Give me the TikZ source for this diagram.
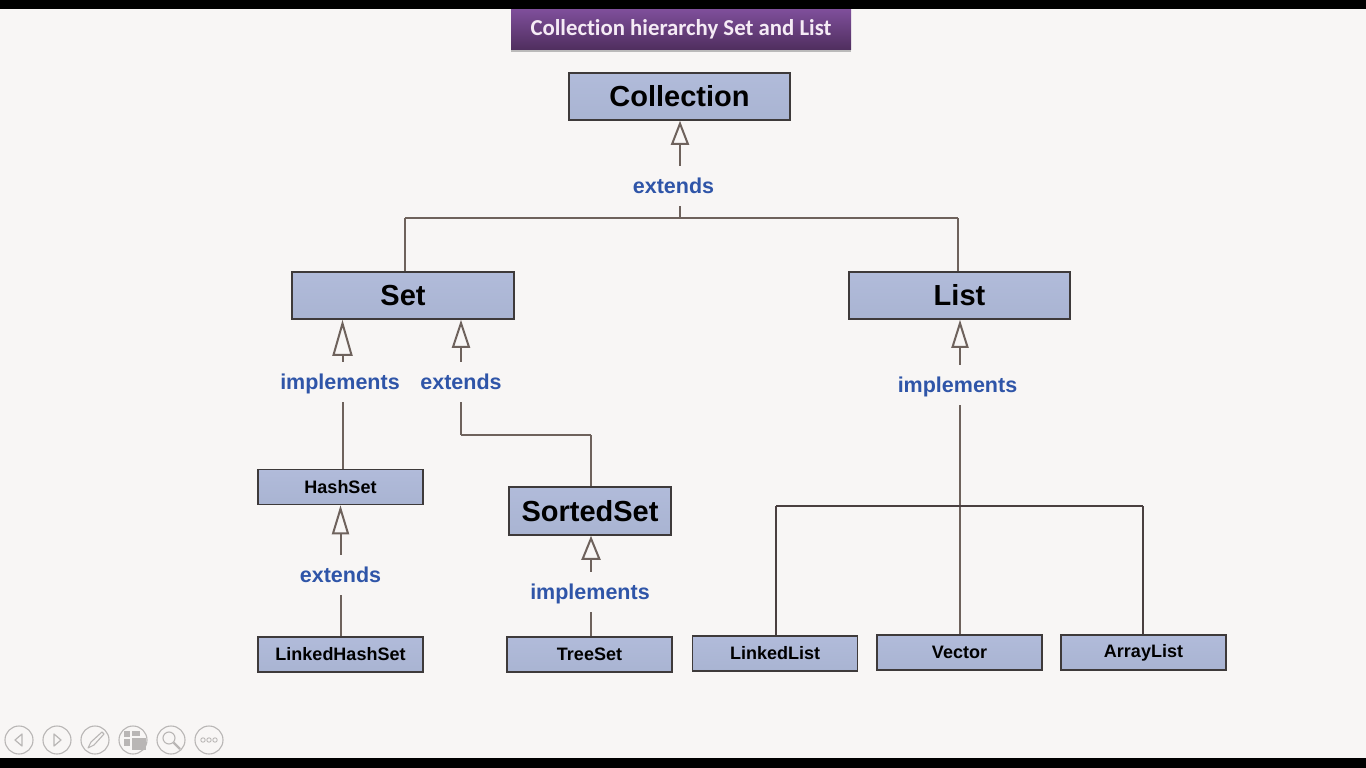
\documentclass[tikz,border=0pt]{standalone}
\usepackage{fontspec}
\setmainfont{Liberation Sans}
\newfontfamily\titlefont[Ligatures=NoCommon]{Carlito}
\usetikzlibrary{arrows.meta,shadows}
\definecolor{slidebg}{HTML}{F8F6F5}
\definecolor{boxtop}{HTML}{B1BBDA}
\definecolor{boxbot}{HTML}{A9B4D2}
\definecolor{boxline}{HTML}{3E3A3A}
\definecolor{wire}{HTML}{6E625C}
\definecolor{wiredark}{HTML}{4A4040}
\definecolor{relblue}{HTML}{2F55A8}
\definecolor{icongray}{HTML}{B9B6B5}
\definecolor{titletop}{HTML}{7F4F9B}
\definecolor{titlebot}{HTML}{4F2E5E}
\tikzset{
    every node/.style={inner sep=0pt},
    bigbox/.style={rectangle, draw=boxline, line width=1.5pt, top color=boxtop,
    	bottom color=boxbot, minimum width=#1, minimum height=47pt, font=\bfseries\fontsize{29}{29}\selectfont},
    smallbox/.style={rectangle, draw=boxline, line width=1.5pt, top color=boxtop,
    	bottom color=boxbot, minimum width=165pt, minimum height=35pt, font=\bfseries\fontsize{18}{18}\selectfont},
    rel/.style={text=relblue, minimum height=40pt, text height=15pt, text depth=0pt,
    	font=\bfseries\fontsize{21.5}{22}\selectfont},
    icon/.style={circle, draw=icongray, line width=1.1pt, minimum size=28pt}
}
\tikzset{
    every edge/.append style={line width=2pt, draw=wire}
}
\tikzset{
    hollow/.style args={#1/#2}{-{Triangle[open, fill=slidebg, length=#1pt, width=#2pt]}}
}
\begin{document}
\begin{tikzpicture}[x=1pt,y=-1pt]
	\useasboundingbox (0,0) rectangle (1366,768);
	\fill [slidebg] (0,0) rectangle (1366,768);

	\node (title) [rectangle, top color=titletop, bottom color=titlebot,
		minimum width=340pt, minimum height=41pt, text=white!92!violet,
		font=\titlefont\bfseries\fontsize{22.8}{23}\selectfont,
		drop shadow={shadow xshift=0pt, shadow yshift=-2.5pt, opacity=.5}] at (681,29.5) {Collection hierarchy Set and List};
	\fill [black] (0,0) rectangle (1366,9);
	\fill [black] (0,758) rectangle (1366,768);

	\node (coll) [bigbox=221pt] at (679.5,96.5) {Collection};
	\node (set) [bigbox=222pt] at (403,295.5) {Set};
	\node (list) [bigbox=221pt] at (959.5,295.5) {List};
	\node (sorted) [bigbox=162pt, minimum height=48pt] at (590,511) {SortedSet};
	\node (hash) [smallbox] at (340.5,487) {HashSet};
	\node (linkedhash) [smallbox] at (340.5,654.5) {LinkedHashSet};
	\node (tree) [smallbox] at (589.5,654.5) {TreeSet};
	\node (linkedlist) [smallbox] at (775,653.5) {LinkedList};
	\node (vector) [smallbox] at (959.5,652.5) {Vector};
	\node (arraylist) [smallbox] at (1143.5,652.5) {ArrayList};

	\node (relcoll) [rel] at (673.5,186) {extends};
	\node (relhash) [rel] at (340,382) {implements};
	\node (relsorted) [rel] at (461,382) {extends};
	\node (rellist) [rel] at (957.5,385) {implements};
	\node (rellinked) [rel] at (340.5,575) {extends};
	\node (reltree) [rel] at (590,592) {implements};

	\coordinate (xcoll) at (680,0);
	\coordinate (xhash) at (342.5,0);
	\coordinate (xsorted) at (461,0);
	\coordinate (xlist) at (960,0);
	\coordinate (xlinked) at (340.5,0);
	\coordinate (xtree) at (591,0);
	\coordinate (joinset) at (405,218);
	\coordinate (joinlist) at (958,218);
	\coordinate (joinmid) at (680,218);
	\coordinate (bendl) at (461,435);
	\coordinate (bendr) at (591,435);
	\coordinate (busl) at (776,506);
	\coordinate (busm) at (960,506);
	\coordinate (busr) at (1143,506);

	\draw (relcoll.north -| xcoll) edge [hollow=24/18] (coll.south -| xcoll);
	\draw (relhash.north -| xhash) edge [hollow=36/20] (set.south -| xhash);
	\draw (relsorted.north -| xsorted) edge [hollow=28/18] (set.south -| xsorted);
	\draw (rellist.north -| xlist) edge [hollow=28/17] (list.south -| xlist);
	\draw (rellinked.north -| xlinked) edge [hollow=29/17] (hash.south -| xlinked);
	\draw (reltree.north -| xtree) edge [hollow=24/19] (sorted.south -| xtree);

	\draw (relcoll.south -| xcoll) edge (joinmid);
	\draw (joinset) edge (joinlist);
	\draw (joinset) edge (joinset |- set.north);
	\draw (joinlist) edge (joinlist |- list.north);
	\draw (relhash.south -| xhash) edge (hash.north -| xhash);
	\draw (relsorted.south -| xsorted) edge (bendl);
	\draw (bendl) edge (bendr);
	\draw (bendr) edge (sorted.north -| bendr);
	\draw (rellinked.south -| xlinked) edge (linkedhash.north -| xlinked);
	\draw (reltree.south -| xtree) edge (tree.north -| xtree);
	\draw (rellist.south -| xlist) edge (vector.north -| xlist);
	\draw (busl) edge [draw=wiredark] (busr);
	\draw (busl) edge [draw=wiredark] (busl |- linkedlist.north);
	\draw (busr) edge [draw=wiredark] (busr |- arraylist.north);

	\node (iback) [icon] at (19,740) {};
	\node (inext) [icon] at (57,740) {};
	\node (ipen) [icon] at (95,740) {};
	\node (islides) [icon] at (133,740) {};
	\node (izoom) [icon] at (171,740) {};
	\node (imore) [icon] at (209,740) {};
	\draw [icongray, line width=1.2pt, line join=round] (22,734) -- (15,740) -- (22,746) -- cycle;
	\draw [icongray, line width=1.2pt, line join=round] (54,734) -- (61,740) -- (54,746) -- cycle;
	\draw [icongray, line width=1.1pt, line join=round] (88,748) -- (91,742) -- (102,732) -- (104,734) -- (94,745) -- cycle;
	\fill [icongray] (124,731) rectangle (130,737);
	\fill [icongray] (132,731) rectangle (140,736);
	\fill [icongray] (124,739) rectangle (130,746);
	\fill [icongray] (132,738) rectangle (146,750);
	\draw [icongray, line width=1.1pt] (169,738) circle (6);
	\draw [icongray, line width=2.4pt] (173.5,742.5) -- (180,749);
	\foreach \cx in {203,209,215}
		\draw [icongray, line width=.9pt] (\cx,740) circle (2.2);
\end{tikzpicture}
\end{document}
